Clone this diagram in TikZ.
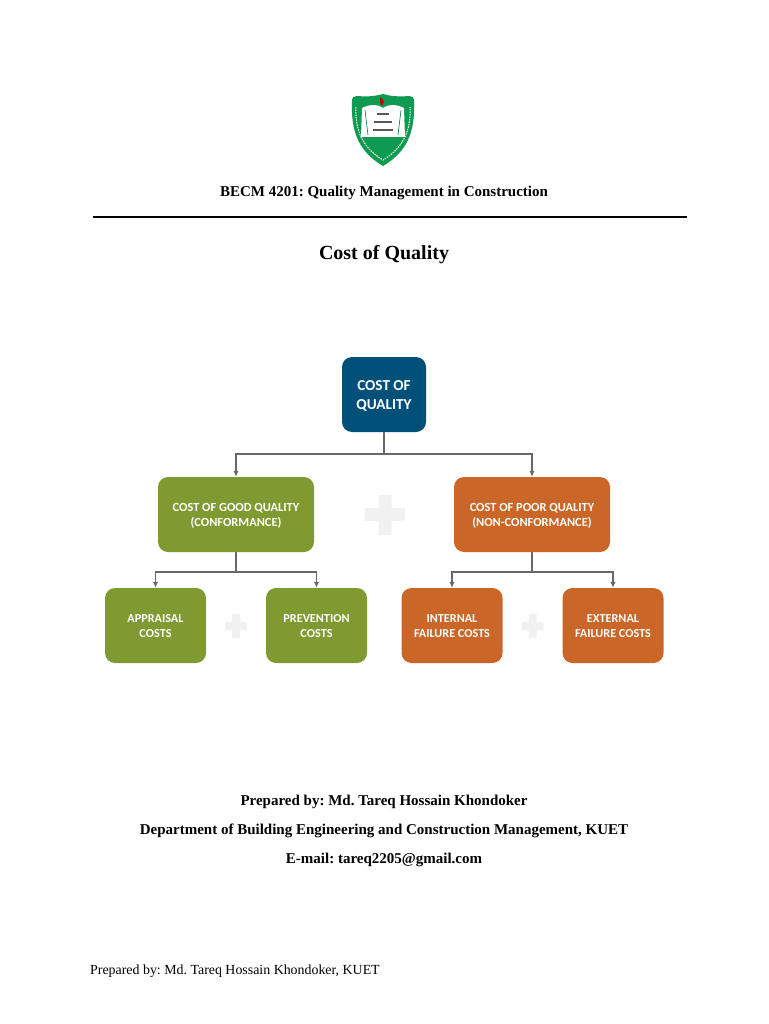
\documentclass[tikz,border=0pt]{standalone}
\usepackage{fontspec}
\setmainfont{Liberation Serif}
\newfontfamily\boxfont{Carlito}
\usetikzlibrary{arrows.meta}
\newcommand{\dropline}[2]{\raisebox{-#1}[\height][\depth]{#2}}
\definecolor{navybox}{HTML}{00507A}
\definecolor{greenbox}{HTML}{7F9A30}
\definecolor{orangebox}{HTML}{C96628}
\definecolor{plusgrey}{HTML}{F1F1F1}
\definecolor{linegrey}{HTML}{686868}
\definecolor{shieldgreen}{HTML}{0E9A50}
\tikzset{
  x=1pt,y=-1pt,
  cbox/.style={rounded corners=10pt,minimum height=75pt,inner sep=0pt,align=center,text=white},
  rootbox/.style={cbox,fill=navybox,minimum width=84pt,font=\boxfont\bfseries\fontsize{15.2}{20}\selectfont},
  midbox/.style={cbox,minimum width=156pt,font=\boxfont\bfseries\fontsize{12.4}{16}\selectfont},
  leafbox/.style={cbox,minimum width=101pt,font=\boxfont\bfseries\fontsize{12.2}{15.5}\selectfont},
  conn/.style={draw=linegrey,line width=1.4pt,-{Latex[length=6pt,width=5.5pt]}},
  trunk/.style={draw=linegrey,line width=1.4pt},
  plain/.style={inner sep=0pt,font=\frenchspacing\bfseries\fontsize{15}{18}\selectfont},
  plusmark/.style={draw=none,fill=plusgrey},
}
\begin{document}
\begin{tikzpicture}
\useasboundingbox (0,0) rectangle (768,1024);
\fill[white] (0,0) rectangle (768,1024);
% crest
\fill[shieldgreen] (352,101) .. controls (352,97) and (354,96) .. (357,96)
  .. controls (368,97) and (376,96) .. (383,94)
  .. controls (390,96) and (398,97) .. (409,96)
  .. controls (412,96) and (414,97) .. (414,101)
  .. controls (415,128) and (410,150) .. (383,166)
  .. controls (356,150) and (351,128) .. (352,101) -- cycle;
\fill[white] (362,108) .. controls (370,104) and (378,104) .. (383,108)
  .. controls (388,104) and (396,104) .. (404,108) -- (405,137) -- (361,137) -- cycle;
\draw[shieldgreen!70!black,line width=0.6pt] (365,110) -- (368,135) (401,110) -- (398,135);
\fill[red!75!black] (381,97) .. controls (379,101) and (380,104) .. (382,106) .. controls (384,104) and (385,101) .. (381,97) -- cycle;
\draw[black!65,line width=1.1pt] (377,114) -- (389,114) (374,122) -- (392,122) (373,130) -- (393,130);
\draw[white,line width=1pt,dash pattern=on 1.5pt off 1pt] (356,107) .. controls (355,128) and (361,147) .. (383,160) .. controls (405,147) and (411,128) .. (410,107);
% texts
\node[plain] (course) at (384,193) {BECM 4201: Quality Management in Construction};
\coordinate (ruleL) at (93,217.5);
\coordinate (ruleR) at (687,217.5);
\draw[line width=2pt] (ruleL) -- (ruleR);
\node[inner sep=0pt,font=\frenchspacing\bfseries\fontsize{20}{24}\selectfont] (title) at (384,255) {Cost of Quality};
% plus signs
\fill[plusmark] (364.5,508) rectangle (405,521) (378.5,495) rectangle (391.5,535);
\fill[plusmark] (225,622) rectangle (247,630) (232,614) rectangle (240,638);
\fill[plusmark] (521.5,622) rectangle (543.5,630) (528.5,614) rectangle (536.5,638);
% boxes
\node[rootbox] (root) at (384,394.5) {\dropline{1.5pt}{COST OF}\\\dropline{1pt}{QUALITY}};
\node[midbox,fill=greenbox] (good) at (236,514.5) {\dropline{1.5pt}{COST OF GOOD QUALITY}\\\dropline{1pt}{(CONFORMANCE)}};
\node[midbox,fill=orangebox] (poor) at (532,514.5) {\dropline{1.5pt}{COST OF POOR QUALITY}\\\dropline{1pt}{(NON-CONFORMANCE)}};
\node[leafbox,fill=greenbox] (appraisal) at (155.5,625.5) {\dropline{1pt}{APPRAISAL}\\COSTS};
\node[leafbox,fill=greenbox] (prevention) at (316.5,625.5) {\dropline{1pt}{PREVENTION}\\COSTS};
\node[leafbox,fill=orangebox] (internal) at (452,625.5) {\dropline{1pt}{INTERNAL}\\FAILURE COSTS};
\node[leafbox,fill=orangebox] (external) at (613,625.5) {\dropline{1pt}{EXTERNAL}\\FAILURE COSTS};
% connectors
\coordinate (rootbar) at (384,454);
\coordinate (goodbar) at (236,572);
\coordinate (poorbar) at (532,572);
\draw[trunk] (root.south) -- (rootbar);
\draw[conn] (rootbar) -| (good.north);
\draw[conn] (rootbar) -| (poor.north);
\draw[trunk] (good.south) -- (goodbar);
\draw[conn] (goodbar) -| (appraisal.north);
\draw[conn] (goodbar) -| (prevention.north);
\draw[trunk] (poor.south) -- (poorbar);
\draw[conn] (poorbar) -| (internal.north);
\draw[conn] (poorbar) -| (external.north);
% lower text
\node[plain] (prep) at (384,802) {Prepared by: Md. Tareq Hossain Khondoker};
\node[plain] (dept) at (384,831) {Department of Building Engineering and Construction Management, KUET};
\node[plain] (mail) at (384,860) {E-mail: tareq2205@gmail.com};
\node[inner sep=0pt,anchor=west,font=\frenchspacing\fontsize{13.9}{18}\selectfont] (foot) at (90,971) {Prepared by: Md. Tareq Hossain Khondoker, KUET};
\end{tikzpicture}
\end{document}
